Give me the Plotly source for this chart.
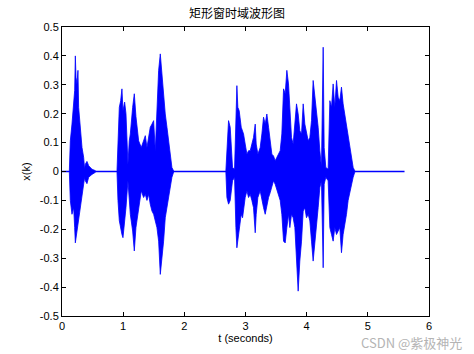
import plotly.graph_objects as go

# ---- data (envelope of the waveform) ----
sig_t = [0.0, 5.60]          # extent of the recorded signal (silence = 0)
sig_v = [0.0, 0.0]

t1 = [0.120, 0.136, 0.163, 0.191, 0.207, 0.218, 0.229, 0.245, 0.261, 0.272, 0.300, 0.327,
      0.354, 0.370, 0.381, 0.408, 0.436, 0.490, 0.545]
up1 = [0.002, 0.106, 0.164, 0.245, 0.280, 0.400, 0.326, 0.303, 0.350, 0.222, 0.141, 0.083,
       0.049, 0.008, 0.025, 0.035, 0.020, 0.008, 0.003]
lo1 = [-0.002, -0.100, -0.148, -0.125, -0.194, -0.247, -0.230, -0.218, -0.190, -0.183, -0.125, -0.090,
       -0.044, -0.020, -0.032, -0.042, -0.020, -0.010, -0.003]

t2 = [0.899, 0.915, 0.937, 0.959, 0.980, 0.997, 1.024, 1.046, 1.078, 1.100, 1.117, 1.155,
      1.182, 1.209, 1.253, 1.296, 1.334, 1.362, 1.389, 1.416, 1.443, 1.471, 1.498, 1.525,
      1.552, 1.580, 1.607, 1.634, 1.661, 1.688, 1.716, 1.743, 1.770, 1.797, 1.825]
up2 = [0.002, 0.106, 0.222, 0.245, 0.286, 0.210, 0.240, 0.200, 0.025, 0.106, 0.130, 0.222,
       0.269, 0.190, 0.106, 0.083, 0.106, 0.124, 0.083, 0.118, 0.153, 0.164, 0.176, 0.072,
       0.222, 0.350, 0.407, 0.326, 0.269, 0.199, 0.153, 0.106, 0.060, 0.014, 0.002]
lo2 = [-0.002, -0.100, -0.170, -0.194, -0.218, -0.229, -0.183, -0.125, -0.032, -0.100, -0.148, -0.206,
       -0.275, -0.194, -0.125, -0.067, -0.090, -0.079, -0.100, -0.079, -0.113, -0.137, -0.148, -0.171,
       -0.194, -0.241, -0.356, -0.299, -0.241, -0.160, -0.125, -0.090, -0.056, -0.020, -0.002]

t3 = [2.679, 2.696, 2.723, 2.750, 2.766, 2.788, 2.821, 2.843, 2.859, 2.875, 2.897, 2.930,
      2.952, 2.968, 2.995, 3.023, 3.050, 3.077, 3.104, 3.131, 3.159, 3.175, 3.202, 3.240,
      3.268, 3.295, 3.322, 3.349, 3.377, 3.404, 3.431, 3.458, 3.485, 3.513, 3.540, 3.567,
      3.594, 3.622, 3.649, 3.676, 3.703, 3.725, 3.752, 3.779, 3.807, 3.834, 3.861, 3.888,
      3.916, 3.943, 3.970, 3.997, 4.025, 4.052, 4.079, 4.106, 4.133, 4.161, 4.188, 4.215,
      4.242, 4.270, 4.286, 4.313, 4.351, 4.379, 4.406, 4.433, 4.460, 4.488, 4.515, 4.542,
      4.569, 4.596, 4.624, 4.651, 4.678, 4.705, 4.733, 4.760, 4.787]
up3 = [0.002, 0.083, 0.176, 0.153, 0.106, 0.014, 0.008, 0.222, 0.297, 0.222, 0.210, 0.153,
       0.141, 0.130, 0.095, 0.060, 0.072, 0.072, 0.095, 0.118, 0.164, 0.095, 0.060, 0.083,
       0.130, 0.188, 0.164, 0.199, 0.153, 0.106, 0.060, 0.054, 0.037, 0.049, 0.060, 0.072,
       0.130, 0.286, 0.269, 0.350, 0.303, 0.222, 0.118, 0.095, 0.164, 0.234, 0.199, 0.141,
       0.130, 0.234, 0.164, 0.130, 0.106, 0.118, 0.176, 0.315, 0.257, 0.222, 0.153, 0.072,
       0.014, 0.430, 0.083, 0.014, 0.008, 0.245, 0.222, 0.303, 0.222, 0.315, 0.257, 0.245,
       0.292, 0.234, 0.199, 0.164, 0.130, 0.083, 0.049, 0.014, 0.002]
lo3 = [-0.002, -0.090, -0.113, -0.100, -0.067, -0.032, -0.020, -0.194, -0.264, -0.229, -0.194, -0.148,
       -0.160, -0.137, -0.090, -0.067, -0.090, -0.079, -0.100, -0.125, -0.212, -0.148, -0.090, -0.067,
       -0.100, -0.125, -0.148, -0.125, -0.090, -0.073, -0.056, -0.032, -0.044, -0.056, -0.079, -0.100,
       -0.148, -0.241, -0.247, -0.194, -0.148, -0.194, -0.148, -0.160, -0.194, -0.287, -0.414, -0.310,
       -0.241, -0.137, -0.125, -0.160, -0.148, -0.171, -0.241, -0.310, -0.241, -0.194, -0.125, -0.056,
       -0.032, -0.333, -0.044, -0.020, -0.032, -0.194, -0.218, -0.241, -0.194, -0.218, -0.206, -0.194,
       -0.281, -0.218, -0.183, -0.148, -0.100, -0.067, -0.044, -0.020, -0.002]

x_ticks = [0, 1, 2, 3, 4, 5, 6]
y_ticks = [-0.5, -0.4, -0.3, -0.2, -0.1, 0, 0.1, 0.2, 0.3, 0.4, 0.5]
y_tick_text = ["-0.5", "-0.4", "-0.3", "-0.2", "-0.1", "0", "0.1", "0.2", "0.3", "0.4", "0.5"]

title = "矩形窗时域波形图"
x_label = "t (seconds)"
y_label = "x(k)"
watermark = "CSDN @紫极神光"

BLUE = "#0000ff"

fig = go.Figure()
fig.add_trace(go.Scatter(x=sig_t, y=sig_v, mode="lines",
                         line=dict(color=BLUE, width=1.5), hoverinfo="skip"))
for t, up, lo in [(t1, up1, lo1), (t2, up2, lo2), (t3, up3, lo3)]:
    fig.add_trace(go.Scatter(x=t + t[::-1], y=up + lo[::-1], mode="lines",
                             fill="toself", fillcolor=BLUE,
                             line=dict(color=BLUE, width=0.8), hoverinfo="skip"))

axis_common = dict(showline=True, linecolor="black", linewidth=1, mirror="ticks",
                   ticks="inside", ticklen=4, tickcolor="black", showgrid=False,
                   zeroline=False, tickfont=dict(family="Liberation Sans, Arial", size=11, color="black"))

fig.update_layout(
    width=474, height=354,
    margin=dict(l=62, r=45, t=27, b=38),
    paper_bgcolor="white", plot_bgcolor="white",
    showlegend=False,
    title=dict(text=title, x=0.5, xanchor="center", y=0.962, yanchor="middle",
               font=dict(family="Noto Sans CJK SC", size=12, color="black")),
    xaxis=dict(range=[0, 6], tickvals=x_ticks, ticktext=[str(v) for v in x_ticks],
               title=dict(text=x_label, standoff=2,
                          font=dict(family="Liberation Sans, Arial", size=11, color="black")),
               **axis_common),
    yaxis=dict(range=[-0.5, 0.5], tickvals=y_ticks, ticktext=y_tick_text,
               title=dict(text=y_label, standoff=6,
                          font=dict(family="Liberation Sans, Arial", size=11, color="black")),
               **axis_common),
    annotations=[dict(text=watermark, xref="paper", yref="paper", x=1.095, y=-0.09,
                      xanchor="right", yanchor="middle", showarrow=False,
                      font=dict(family="Noto Sans CJK SC", size=13, color="#b4b4b4"))],
)

fig.write_html("out.html")
